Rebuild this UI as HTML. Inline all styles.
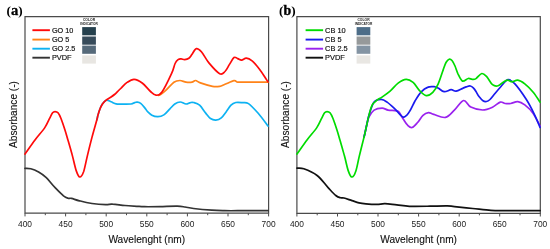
<!DOCTYPE html>
<html><head><meta charset="utf-8"><style>
html,body{margin:0;padding:0;background:#fff;width:550px;height:249px;overflow:hidden}
svg{display:block;font-family:"Liberation Sans",sans-serif;will-change:transform}
</style></head><body>
<svg width="550" height="249" viewBox="0 0 550 249">
<path d="M25.0 16.7 H268.6 V213.2 H25.0 Z" fill="none" stroke="#4a4a4a" stroke-width="1.2"/>
<line x1="25.0" y1="213.2" x2="25.0" y2="216.4" stroke="#4a4a4a" stroke-width="1"/>
<line x1="45.3" y1="213.2" x2="45.3" y2="215.2" stroke="#4a4a4a" stroke-width="1"/>
<line x1="65.6" y1="213.2" x2="65.6" y2="216.4" stroke="#4a4a4a" stroke-width="1"/>
<line x1="85.9" y1="213.2" x2="85.9" y2="215.2" stroke="#4a4a4a" stroke-width="1"/>
<line x1="106.2" y1="213.2" x2="106.2" y2="216.4" stroke="#4a4a4a" stroke-width="1"/>
<line x1="126.5" y1="213.2" x2="126.5" y2="215.2" stroke="#4a4a4a" stroke-width="1"/>
<line x1="146.8" y1="213.2" x2="146.8" y2="216.4" stroke="#4a4a4a" stroke-width="1"/>
<line x1="167.1" y1="213.2" x2="167.1" y2="215.2" stroke="#4a4a4a" stroke-width="1"/>
<line x1="187.4" y1="213.2" x2="187.4" y2="216.4" stroke="#4a4a4a" stroke-width="1"/>
<line x1="207.7" y1="213.2" x2="207.7" y2="215.2" stroke="#4a4a4a" stroke-width="1"/>
<line x1="228.0" y1="213.2" x2="228.0" y2="216.4" stroke="#4a4a4a" stroke-width="1"/>
<line x1="248.3" y1="213.2" x2="248.3" y2="215.2" stroke="#4a4a4a" stroke-width="1"/>
<line x1="268.6" y1="213.2" x2="268.6" y2="216.4" stroke="#4a4a4a" stroke-width="1"/>
<text x="25.0" y="226.6" text-anchor="middle" font-size="9.4" fill="#222" textLength="14" lengthAdjust="spacingAndGlyphs">400</text>
<text x="65.6" y="226.6" text-anchor="middle" font-size="9.4" fill="#222" textLength="14" lengthAdjust="spacingAndGlyphs">450</text>
<text x="106.2" y="226.6" text-anchor="middle" font-size="9.4" fill="#222" textLength="14" lengthAdjust="spacingAndGlyphs">500</text>
<text x="146.8" y="226.6" text-anchor="middle" font-size="9.4" fill="#222" textLength="14" lengthAdjust="spacingAndGlyphs">550</text>
<text x="187.4" y="226.6" text-anchor="middle" font-size="9.4" fill="#222" textLength="14" lengthAdjust="spacingAndGlyphs">600</text>
<text x="228.0" y="226.6" text-anchor="middle" font-size="9.4" fill="#222" textLength="14" lengthAdjust="spacingAndGlyphs">650</text>
<text x="268.6" y="226.6" text-anchor="middle" font-size="9.4" fill="#222" textLength="14" lengthAdjust="spacingAndGlyphs">700</text>
<text x="146.8" y="243" text-anchor="middle" font-size="10.1" fill="#111" stroke="#111" stroke-width="0.12" textLength="76.8" lengthAdjust="spacingAndGlyphs">Wavelenght (nm)</text>
<path d="M296.9 16.7 H540.3 V213.3 H296.9 Z" fill="none" stroke="#4a4a4a" stroke-width="1.2"/>
<line x1="296.9" y1="213.3" x2="296.9" y2="216.5" stroke="#4a4a4a" stroke-width="1"/>
<line x1="317.2" y1="213.3" x2="317.2" y2="215.3" stroke="#4a4a4a" stroke-width="1"/>
<line x1="337.5" y1="213.3" x2="337.5" y2="216.5" stroke="#4a4a4a" stroke-width="1"/>
<line x1="357.8" y1="213.3" x2="357.8" y2="215.3" stroke="#4a4a4a" stroke-width="1"/>
<line x1="378.0" y1="213.3" x2="378.0" y2="216.5" stroke="#4a4a4a" stroke-width="1"/>
<line x1="398.3" y1="213.3" x2="398.3" y2="215.3" stroke="#4a4a4a" stroke-width="1"/>
<line x1="418.6" y1="213.3" x2="418.6" y2="216.5" stroke="#4a4a4a" stroke-width="1"/>
<line x1="438.9" y1="213.3" x2="438.9" y2="215.3" stroke="#4a4a4a" stroke-width="1"/>
<line x1="459.2" y1="213.3" x2="459.2" y2="216.5" stroke="#4a4a4a" stroke-width="1"/>
<line x1="479.4" y1="213.3" x2="479.4" y2="215.3" stroke="#4a4a4a" stroke-width="1"/>
<line x1="499.7" y1="213.3" x2="499.7" y2="216.5" stroke="#4a4a4a" stroke-width="1"/>
<line x1="520.0" y1="213.3" x2="520.0" y2="215.3" stroke="#4a4a4a" stroke-width="1"/>
<line x1="540.3" y1="213.3" x2="540.3" y2="216.5" stroke="#4a4a4a" stroke-width="1"/>
<text x="296.9" y="226.6" text-anchor="middle" font-size="9.4" fill="#222" textLength="14" lengthAdjust="spacingAndGlyphs">400</text>
<text x="337.5" y="226.6" text-anchor="middle" font-size="9.4" fill="#222" textLength="14" lengthAdjust="spacingAndGlyphs">450</text>
<text x="378.0" y="226.6" text-anchor="middle" font-size="9.4" fill="#222" textLength="14" lengthAdjust="spacingAndGlyphs">500</text>
<text x="418.6" y="226.6" text-anchor="middle" font-size="9.4" fill="#222" textLength="14" lengthAdjust="spacingAndGlyphs">550</text>
<text x="459.2" y="226.6" text-anchor="middle" font-size="9.4" fill="#222" textLength="14" lengthAdjust="spacingAndGlyphs">600</text>
<text x="499.7" y="226.6" text-anchor="middle" font-size="9.4" fill="#222" textLength="14" lengthAdjust="spacingAndGlyphs">650</text>
<text x="540.3" y="226.6" text-anchor="middle" font-size="9.4" fill="#222" textLength="14" lengthAdjust="spacingAndGlyphs">700</text>
<text x="418.6" y="243" text-anchor="middle" font-size="10.1" fill="#111" stroke="#111" stroke-width="0.12" textLength="76.8" lengthAdjust="spacingAndGlyphs">Wavelenght (nm)</text>
<text x="6.6" y="15" font-family="Liberation Serif" font-weight="bold" font-size="13.2" fill="#000">(<tspan font-size="14.6" stroke="#000" stroke-width="0.35">a</tspan>)</text>
<text x="279.1" y="15" font-family="Liberation Serif" font-weight="bold" font-size="13.2" fill="#000">(<tspan font-size="13.8" stroke="#000" stroke-width="0.4">b</tspan>)</text>
<text transform="translate(16.8 114.5) rotate(-90)" text-anchor="middle" font-size="10.1" fill="#111" stroke="#111" stroke-width="0.12" textLength="66.8" lengthAdjust="spacingAndGlyphs">Absorbance (-)</text>
<text transform="translate(288.8 114.5) rotate(-90)" text-anchor="middle" font-size="10.1" fill="#111" stroke="#111" stroke-width="0.12" textLength="66.8" lengthAdjust="spacingAndGlyphs">Absorbance (-)</text>
<line x1="32.4" y1="30.2" x2="49.9" y2="30.2" stroke="#ff0a0a" stroke-width="1.9"/>
<text x="51.9" y="32.9" font-size="7.9" fill="#111" stroke="#111" stroke-width="0.18" textLength="21.4" lengthAdjust="spacingAndGlyphs">GO 10</text>
<line x1="32.4" y1="39.6" x2="49.9" y2="39.6" stroke="#ff8318" stroke-width="1.9"/>
<text x="51.9" y="42.2" font-size="7.9" fill="#111" stroke="#111" stroke-width="0.18" textLength="17.4" lengthAdjust="spacingAndGlyphs">GO 5</text>
<line x1="32.4" y1="48.7" x2="49.9" y2="48.7" stroke="#0db2f2" stroke-width="1.9"/>
<text x="51.9" y="51.4" font-size="7.9" fill="#111" stroke="#111" stroke-width="0.18" textLength="23.4" lengthAdjust="spacingAndGlyphs">GO 2.5</text>
<line x1="32.4" y1="57.7" x2="49.9" y2="57.7" stroke="#333" stroke-width="1.9"/>
<text x="51.9" y="60.4" font-size="7.9" fill="#111" stroke="#111" stroke-width="0.18" textLength="19.7" lengthAdjust="spacingAndGlyphs">PVDF</text>
<rect x="82.2" y="27.1" width="13.7" height="8.2" fill="#25404d"/>
<rect x="82.2" y="36.5" width="13.7" height="8.2" fill="#374b5a"/>
<rect x="82.2" y="45.6" width="13.7" height="8.2" fill="#566a7a"/>
<rect x="82.2" y="55.4" width="13.7" height="8.2" fill="#e8e6e2"/>
<text x="89.0" y="21" text-anchor="middle" font-size="3.9" font-weight="bold" fill="#222" textLength="12.2" lengthAdjust="spacingAndGlyphs">COLOR</text>
<text x="89.0" y="25.1" text-anchor="middle" font-size="3.9" font-weight="bold" fill="#222" textLength="17.5" lengthAdjust="spacingAndGlyphs">INDICATOR</text>
<line x1="305.6" y1="30.2" x2="323.1" y2="30.2" stroke="#00dc00" stroke-width="1.9"/>
<text x="325.1" y="32.9" font-size="7.9" fill="#111" stroke="#111" stroke-width="0.18" textLength="20.6" lengthAdjust="spacingAndGlyphs">CB 10</text>
<line x1="305.6" y1="39.6" x2="323.1" y2="39.6" stroke="#1a1aee" stroke-width="1.9"/>
<text x="325.1" y="42.2" font-size="7.9" fill="#111" stroke="#111" stroke-width="0.18" textLength="16.4" lengthAdjust="spacingAndGlyphs">CB 5</text>
<line x1="305.6" y1="48.7" x2="323.1" y2="48.7" stroke="#9a22ee" stroke-width="1.9"/>
<text x="325.1" y="51.4" font-size="7.9" fill="#111" stroke="#111" stroke-width="0.18" textLength="22.6" lengthAdjust="spacingAndGlyphs">CB 2.5</text>
<line x1="305.6" y1="57.7" x2="323.1" y2="57.7" stroke="#111" stroke-width="1.9"/>
<text x="325.1" y="60.4" font-size="7.9" fill="#111" stroke="#111" stroke-width="0.18" textLength="19.7" lengthAdjust="spacingAndGlyphs">PVDF</text>
<rect x="356.6" y="27.1" width="13.7" height="8.2" fill="#4d6d88"/>
<rect x="356.6" y="36.5" width="13.7" height="8.2" fill="#96999a"/>
<rect x="356.6" y="45.6" width="13.7" height="8.2" fill="#8494a3"/>
<rect x="356.6" y="55.4" width="13.7" height="8.2" fill="#e9e7e3"/>
<text x="363.5" y="21" text-anchor="middle" font-size="3.9" font-weight="bold" fill="#222" textLength="12.2" lengthAdjust="spacingAndGlyphs">COLOR</text>
<text x="363.5" y="25.1" text-anchor="middle" font-size="3.9" font-weight="bold" fill="#222" textLength="17.5" lengthAdjust="spacingAndGlyphs">INDICATOR</text>
<path d="M25.0 168.4 C26.0 168.5 28.5 168.2 30.8 168.8 C33.1 169.4 36.0 170.6 38.6 172.1 C41.2 173.6 43.5 175.1 46.3 177.7 C49.0 180.3 52.2 184.6 55.1 187.6 C58.0 190.6 61.4 194.0 63.5 195.8 C65.7 197.6 66.7 197.8 68.0 198.2 C69.3 198.6 69.6 198.0 71.5 198.4 C73.4 198.8 76.0 200.0 79.4 200.8 C82.8 201.7 87.6 202.9 92.0 203.5 C96.4 204.1 102.3 204.5 105.7 204.6 C109.1 204.7 109.4 204.0 112.6 204.2 C115.8 204.3 121.0 205.2 125.0 205.5 C129.0 205.8 133.6 206.1 136.8 206.3 C140.1 206.5 140.6 206.6 144.5 206.7 C148.4 206.8 154.5 206.7 160.0 206.6 C165.5 206.5 173.1 206.1 177.3 206.2 C181.5 206.3 182.3 206.6 185.0 207.0 C187.7 207.4 189.1 208.0 193.6 208.5 C198.1 209.0 206.7 209.8 211.8 210.2 C217.0 210.6 219.0 210.6 224.5 210.7 C230.0 210.8 237.8 210.7 245.0 210.7 C252.2 210.7 264.2 210.7 268.0 210.7" fill="none" stroke="#333" stroke-width="1.70" stroke-linejoin="round" stroke-linecap="round"/>
<path d="M96.8 120.0 C97.8 116.3 97.4 117.0 98.0 115.0 C98.6 113.0 99.5 109.9 100.3 108.0 C101.0 106.1 101.5 105.1 102.5 103.8 C103.5 102.5 105.1 100.5 106.5 100.2 C107.9 99.9 109.5 101.2 111.1 101.8 C112.7 102.4 114.3 103.5 116.1 103.9 C117.9 104.3 119.6 104.1 122.1 104.1 C124.6 104.1 129.0 104.2 131.1 104.0 C133.2 103.8 133.7 102.9 134.7 102.6 C135.7 102.3 136.2 102.1 137.2 102.2 C138.2 102.3 139.4 102.4 140.7 103.4 C142.0 104.4 143.9 106.8 145.0 108.1 C146.1 109.4 146.3 110.3 147.5 111.5 C148.7 112.7 150.2 114.3 151.9 115.2 C153.6 116.1 155.9 116.8 157.9 116.7 C159.9 116.7 161.9 116.2 163.9 114.9 C165.9 113.6 168.1 110.7 169.9 108.9 C171.7 107.1 173.1 105.2 174.8 104.0 C176.5 102.8 178.3 102.0 180.2 102.0 C182.1 102.0 184.3 103.9 186.0 104.0 C187.7 104.1 189.1 102.8 190.4 102.6 C191.7 102.3 192.1 102.1 193.6 102.5 C195.1 102.9 197.6 103.4 199.6 105.2 C201.6 107.0 203.9 110.9 205.7 113.1 C207.5 115.3 208.8 117.3 210.5 118.5 C212.2 119.7 214.1 120.2 215.9 120.1 C217.7 120.0 219.6 119.3 221.3 117.9 C223.0 116.5 224.5 114.0 226.1 111.9 C227.7 109.8 229.4 106.8 231.0 105.2 C232.6 103.6 234.0 102.9 235.8 102.5 C237.7 102.1 240.0 102.4 242.1 102.6 C244.2 102.8 245.8 101.8 248.5 103.6 C251.2 105.4 255.1 109.8 258.4 113.5 C261.6 117.2 266.4 123.9 268.0 126.0" fill="none" stroke="#0db2f2" stroke-width="1.70" stroke-linejoin="round" stroke-linecap="round"/>
<path d="M158.3 95.4 C160.7 95.2 162.9 92.8 165.5 90.6 C168.1 88.4 171.5 83.9 173.9 82.2 C176.3 80.5 177.9 80.5 179.9 80.5 C181.9 80.5 184.0 81.9 186.0 82.2 C188.0 82.5 190.4 82.5 192.0 82.2 C193.6 81.9 194.2 80.4 195.6 80.5 C197.0 80.6 197.6 81.9 200.4 82.9 C203.2 83.9 209.3 85.7 212.5 86.3 C215.7 86.9 217.6 86.6 219.7 86.3 C221.8 86.0 222.6 85.2 225.0 84.3 C227.4 83.4 231.9 81.1 234.0 80.7 C236.1 80.3 235.9 81.8 237.7 82.1 C239.5 82.3 239.9 82.2 245.0 82.2 C250.1 82.2 264.2 82.2 268.0 82.2" fill="none" stroke="#ff8318" stroke-width="1.70" stroke-linejoin="round" stroke-linecap="round"/>
<path d="M25.0 154.0 C26.7 151.7 31.7 144.4 35.0 140.0 C38.3 135.6 42.4 131.2 44.8 127.6 C47.2 124.0 48.3 120.8 49.6 118.3 C50.9 115.8 51.7 113.9 52.6 112.8 C53.5 111.7 54.1 111.6 55.0 111.6 C55.9 111.6 57.0 111.6 58.0 112.8 C59.0 114.0 59.9 115.7 61.0 118.5 C62.1 121.3 63.6 125.8 64.8 129.5 C66.0 133.2 66.8 136.1 68.1 140.5 C69.4 144.9 71.2 151.1 72.5 156.1 C73.8 161.1 75.0 167.1 76.2 170.6 C77.4 174.1 78.6 176.8 79.8 177.0 C81.0 177.2 82.3 175.3 83.6 171.8 C84.8 168.3 85.9 161.9 87.3 156.1 C88.7 150.3 90.5 142.9 92.1 136.9 C93.7 130.9 95.8 123.7 96.8 120.0 C97.8 116.3 97.4 117.1 98.0 115.0 C98.6 112.9 99.6 109.7 100.5 107.6 C101.4 105.5 102.4 103.9 103.5 102.6 C104.6 101.2 105.7 100.4 107.0 99.5 C108.3 98.6 109.8 97.9 111.1 97.0 C112.4 96.1 113.8 95.1 115.1 94.0 C116.3 92.9 117.5 91.6 118.6 90.5 C119.7 89.4 120.2 88.9 121.6 87.6 C123.0 86.2 125.0 83.8 127.1 82.4 C129.2 81.0 131.6 79.3 134.1 79.4 C136.6 79.5 139.5 81.0 142.2 83.0 C144.9 85.0 148.2 89.5 150.5 91.5 C152.8 93.5 154.1 95.1 156.0 95.2 C157.9 95.3 159.4 95.6 162.0 92.0 C164.6 88.4 169.3 78.5 171.5 73.7 C173.7 69.0 174.0 65.8 175.1 63.5 C176.2 61.1 177.1 60.4 178.1 59.6 C179.1 58.8 180.0 58.9 181.1 58.9 C182.2 58.9 183.4 59.8 184.7 59.7 C186.0 59.6 187.7 59.2 188.9 58.3 C190.1 57.4 190.7 56.1 191.9 54.5 C193.1 52.9 194.7 49.0 196.3 48.6 C197.9 48.2 199.5 49.6 201.6 52.0 C203.7 54.4 205.9 59.3 208.9 62.9 C211.9 66.5 217.0 72.3 219.7 73.7 C222.4 75.1 223.4 73.0 225.0 71.5 C226.6 70.0 228.0 66.7 229.5 64.4 C231.0 62.1 232.6 58.5 234.0 57.5 C235.4 56.5 236.4 58.1 237.7 58.6 C239.0 59.1 240.2 60.3 241.6 60.2 C243.0 60.1 244.6 58.0 246.3 58.1 C248.1 58.2 249.9 59.0 252.1 60.8 C254.3 62.6 257.2 66.2 259.3 68.9 C261.4 71.6 263.4 74.8 264.8 77.0 C266.2 79.2 267.5 81.1 268.0 81.9" fill="none" stroke="#ff0a0a" stroke-width="1.70" stroke-linejoin="round" stroke-linecap="round"/>
<path d="M297.0 168.2 C298.1 168.3 300.4 167.6 303.8 168.8 C307.2 170.0 313.1 172.4 317.1 175.5 C321.2 178.6 325.0 184.3 328.1 187.6 C331.2 190.9 333.7 193.8 335.8 195.5 C337.9 197.2 339.1 197.4 340.5 197.8 C341.9 198.2 342.1 197.5 344.0 198.0 C345.9 198.5 349.5 199.8 352.0 200.6 C354.5 201.4 356.7 202.3 359.0 202.8 C361.3 203.3 362.9 203.5 365.9 203.8 C368.9 204.1 373.6 204.4 376.8 204.4 C380.0 204.4 381.7 203.6 385.0 203.7 C388.3 203.8 392.7 204.5 396.8 204.9 C400.9 205.3 404.0 206.1 409.5 206.3 C415.0 206.5 423.7 206.3 430.0 206.2 C436.3 206.1 443.2 205.8 447.3 205.9 C451.4 206.0 450.3 206.2 454.5 206.6 C458.7 207.0 466.6 207.9 472.7 208.5 C478.8 209.1 485.8 210.0 490.9 210.3 C495.9 210.7 498.1 210.6 503.0 210.6 C507.9 210.6 513.8 210.6 520.0 210.6 C526.2 210.6 536.7 210.6 540.0 210.6" fill="none" stroke="#111" stroke-width="1.70" stroke-linejoin="round" stroke-linecap="round"/>
<path d="M364.1 136.9 C365.3 131.9 365.7 129.3 366.5 126.0 C367.3 122.7 367.7 119.7 369.0 117.0 C370.3 114.3 371.9 111.6 374.1 110.1 C376.3 108.6 379.8 108.1 382.1 108.1 C384.4 108.1 385.9 109.7 388.1 110.1 C390.3 110.5 393.4 110.4 395.1 110.7 C396.9 111.0 397.2 110.3 398.6 111.7 C400.0 113.1 401.7 116.8 403.2 119.0 C404.7 121.2 406.1 123.8 407.6 125.2 C409.1 126.6 410.4 128.0 412.1 127.5 C413.8 127.0 415.8 124.5 417.6 122.5 C419.4 120.5 421.2 117.0 423.0 115.3 C424.8 113.6 426.6 112.8 428.4 112.6 C430.2 112.4 430.9 113.6 433.8 114.4 C436.7 115.2 442.0 118.2 445.5 117.4 C449.0 116.7 451.6 112.7 454.6 109.9 C457.6 107.1 460.9 101.0 463.6 100.5 C466.3 100.0 467.6 105.5 470.8 107.1 C474.0 108.7 479.0 110.0 482.6 110.0 C486.2 110.0 489.6 108.5 492.5 107.2 C495.4 105.9 498.2 102.7 500.3 102.1 C502.4 101.5 503.4 103.3 505.1 103.5 C506.8 103.7 508.6 103.8 510.7 103.5 C512.8 103.2 515.4 101.4 517.8 101.6 C520.1 101.8 522.2 102.9 524.8 104.9 C527.4 106.9 530.7 109.9 533.2 113.4 C535.7 116.9 538.9 123.9 540.0 126.0" fill="none" stroke="#9a22ee" stroke-width="1.70" stroke-linejoin="round" stroke-linecap="round"/>
<path d="M364.1 136.9 C365.3 131.9 365.7 129.6 366.5 126.0 C367.3 122.4 367.7 119.1 369.0 115.1 C370.3 111.1 372.1 104.7 374.1 102.1 C376.1 99.5 378.9 99.4 381.1 99.4 C383.3 99.4 384.8 100.5 387.1 102.1 C389.4 103.7 392.4 106.6 395.1 109.1 C397.8 111.6 400.9 116.6 403.2 117.1 C405.5 117.6 407.2 114.8 409.2 112.1 C411.2 109.4 413.0 104.4 415.0 101.0 C417.0 97.6 419.0 94.1 421.2 91.8 C423.4 89.5 426.0 87.9 428.1 87.1 C430.2 86.2 432.4 86.5 434.1 86.7 C435.8 86.9 436.4 87.3 438.1 88.1 C439.8 88.9 441.9 91.4 444.1 91.7 C446.3 92.0 449.1 89.8 451.1 89.7 C453.1 89.6 454.1 91.4 456.1 91.1 C458.1 90.8 461.3 88.8 463.1 88.1 C464.9 87.3 465.8 86.9 467.0 86.6 C468.2 86.2 469.2 85.8 470.3 86.0 C471.4 86.2 472.4 86.9 473.3 87.8 C474.2 88.7 475.1 90.0 476.0 91.5 C476.9 93.0 477.8 95.0 479.0 96.5 C480.2 98.0 481.8 100.0 483.0 100.8 C484.2 101.6 485.3 101.7 486.5 101.5 C487.7 101.3 488.6 100.8 490.0 99.5 C491.4 98.2 493.2 95.7 495.0 93.5 C496.8 91.3 498.9 88.8 501.0 86.5 C503.1 84.2 505.6 80.1 507.9 79.7 C510.2 79.3 511.8 80.6 514.9 83.9 C518.0 87.2 522.9 94.2 526.2 99.3 C529.5 104.4 532.3 110.1 534.6 114.8 C536.9 119.5 539.1 125.3 540.0 127.4" fill="none" stroke="#1a1aee" stroke-width="1.70" stroke-linejoin="round" stroke-linecap="round"/>
<path d="M297.0 154.0 C298.7 151.7 303.7 144.4 307.0 140.0 C310.3 135.6 314.4 131.2 316.8 127.6 C319.2 124.0 320.3 120.8 321.6 118.3 C322.9 115.8 323.7 113.9 324.6 112.8 C325.5 111.7 326.1 111.6 327.0 111.6 C327.9 111.6 329.0 111.6 330.0 112.8 C331.0 114.0 331.9 115.7 333.0 118.5 C334.1 121.3 335.6 125.8 336.8 129.5 C338.0 133.2 338.8 136.1 340.1 140.5 C341.4 144.9 343.1 151.1 344.5 156.1 C345.9 161.1 347.0 167.1 348.2 170.6 C349.4 174.1 350.6 176.8 351.8 177.0 C353.0 177.2 354.4 175.3 355.6 171.8 C356.9 168.3 357.9 161.9 359.3 156.1 C360.7 150.3 362.9 141.9 364.1 136.9 C365.3 131.9 365.7 129.6 366.5 126.0 C367.3 122.4 368.1 118.6 369.0 115.1 C369.9 111.6 370.8 107.6 372.1 105.1 C373.5 102.6 375.5 101.4 377.1 100.1 C378.8 98.8 379.8 98.6 382.0 97.1 C384.2 95.6 387.4 93.4 390.1 91.1 C392.8 88.8 395.4 85.1 398.1 83.1 C400.8 81.1 403.6 79.4 406.1 79.3 C408.6 79.2 410.9 80.5 413.1 82.3 C415.3 84.1 417.1 88.1 419.3 90.3 C421.5 92.5 423.9 95.3 426.2 95.6 C428.4 95.9 430.8 94.2 432.8 92.3 C434.8 90.4 436.4 87.8 438.1 84.1 C439.8 80.4 441.8 73.7 443.1 70.1 C444.4 66.5 445.0 64.3 446.0 62.5 C447.0 60.7 448.1 59.5 449.1 59.2 C450.1 58.9 451.0 59.4 452.0 60.5 C453.0 61.6 454.0 63.7 455.0 66.0 C456.0 68.3 456.9 71.6 458.1 74.1 C459.4 76.6 460.8 80.4 462.5 81.1 C464.2 81.8 466.6 78.8 468.2 78.5 C469.8 78.2 470.9 79.3 472.2 79.3 C473.5 79.3 474.4 79.6 476.0 78.6 C477.6 77.6 480.0 73.8 481.8 73.5 C483.6 73.2 485.1 75.0 486.9 76.9 C488.7 78.8 490.6 83.2 492.5 84.7 C494.4 86.2 496.2 86.3 498.1 85.8 C500.0 85.3 502.1 82.8 503.7 81.9 C505.3 81.0 506.5 80.2 507.9 80.2 C509.3 80.2 510.5 81.9 512.1 81.9 C513.8 81.9 515.7 79.9 517.8 80.2 C519.9 80.5 522.2 81.9 524.8 83.9 C527.4 85.9 530.7 89.3 533.2 92.3 C535.7 95.3 538.9 100.5 540.0 102.1" fill="none" stroke="#00dc00" stroke-width="1.70" stroke-linejoin="round" stroke-linecap="round"/>
</svg>
</body></html>
